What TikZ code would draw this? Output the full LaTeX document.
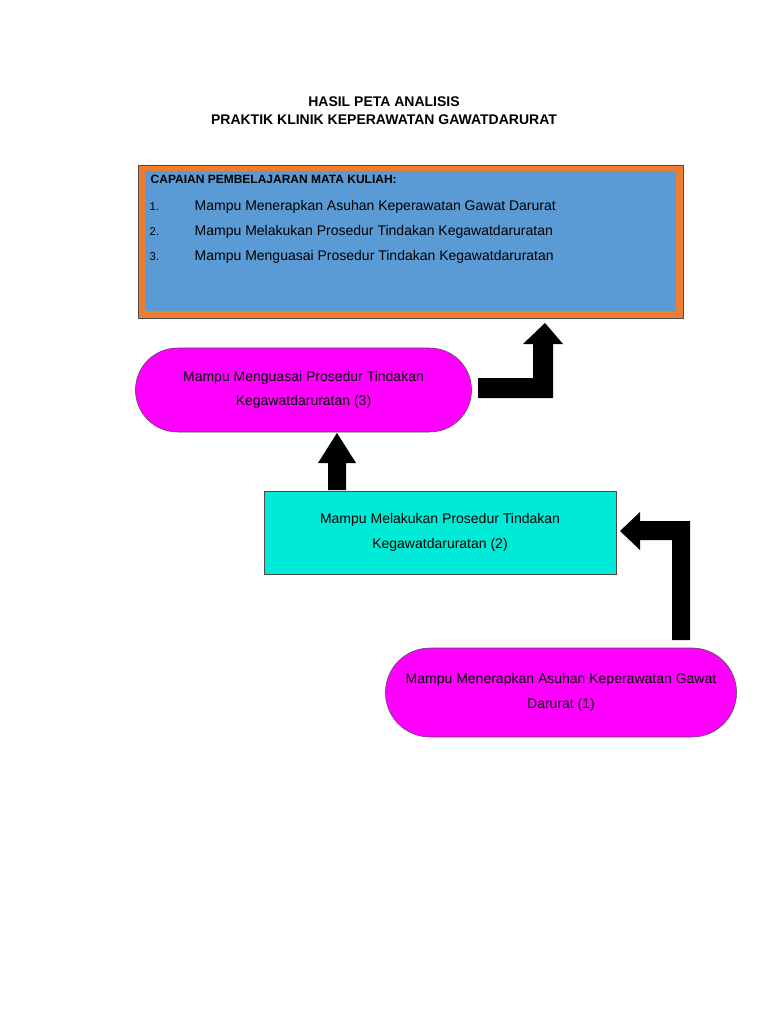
\documentclass[tikz,border=0pt]{standalone}
\usepackage{fontspec}
\setmainfont{Liberation Sans}
\usetikzlibrary{positioning,shapes.misc}
\definecolor{boxblue}{RGB}{91,155,213}
\definecolor{boxorange}{RGB}{237,125,49}
\definecolor{pink}{RGB}{255,0,255}
\definecolor{aqua}{RGB}{0,235,215}
\tikzset{
	stad/.style={draw=black!70, fill=pink, rounded rectangle, align=center, font=\fontsize{10.5}{18.5}\selectfont},
	plain/.style={draw=black!70, fill=aqua, align=center, font=\fontsize{10.5}{18.5}\selectfont},
	blk/.style={fill=black}
}
\begin{document}
\begin{tikzpicture}[x=0.75pt, y=-0.75pt]
	\useasboundingbox (0,0) rectangle (768,1024);
	\node[font=\bfseries\fontsize{10.5}{13.5}\selectfont, align=center] (title) at (384,111) {HASIL PETA ANALISIS\\PRAKTIK KLINIK KEPERAWATAN GAWATDARURAT};
	
	% capaian box
	\draw[black!70, fill=boxorange] (138,165) rectangle (683,318);
	\fill[boxblue] (145,171) rectangle (676,311);
	\node[anchor=west, font=\bfseries\fontsize{9}{11}\selectfont] (cpmk) at (146,179) {CAPAIAN PEMBELAJARAN MATA KULIAH:};
	\foreach \i/\t in {1/Mampu Menerapkan Asuhan Keperawatan Gawat Darurat,
		2/Mampu Melakukan Prosedur Tindakan Kegawatdaruratan,
		3/Mampu Menguasai Prosedur Tindakan Kegawatdaruratan} {
		\node[anchor=west, font=\fontsize{8.5}{10}\selectfont] (n\i) at (145,182+25*\i) {\i.};
		\node[anchor=west, font=\fontsize{10.5}{12}\selectfont] (t\i) at (190,182+25*\i) {\t};
	}
	
	% steps
	\node[stad, minimum width=345*0.75pt, minimum height=84*0.75pt] (three) at (303.5,390) {Mampu Menguasai Prosedur Tindakan\\Kegawatdaruratan (3)};
	\node[plain, minimum width=352*0.75pt, minimum height=83*0.75pt] (two) at (440,532.5) {Mampu Melakukan Prosedur Tindakan\\Kegawatdaruratan (2)};
	\node[stad, minimum width=360*0.75pt, minimum height=89*0.75pt] (one) at (561,692.5) {Mampu Menerapkan Asuhan Keperawatan Gawat\\Darurat (1)};
	
	% block arrows
	\fill[blk] (478,378) -- (533,378) -- (533,344) -- (523,344) -- (545,323) -- (563,344) -- (553,344) -- (553,398) -- (478,398) -- cycle;
	\fill[blk] (328,490) -- (328,463) -- (318,463) -- (337,433) -- (356,463) -- (346,463) -- (346,490) -- cycle;
	\fill[blk] (672,640) -- (672,540) -- (640,540) -- (640,550) -- (620,531) -- (640,512) -- (640,521) -- (690,521) -- (690,640) -- cycle;
\end{tikzpicture}
\end{document}
